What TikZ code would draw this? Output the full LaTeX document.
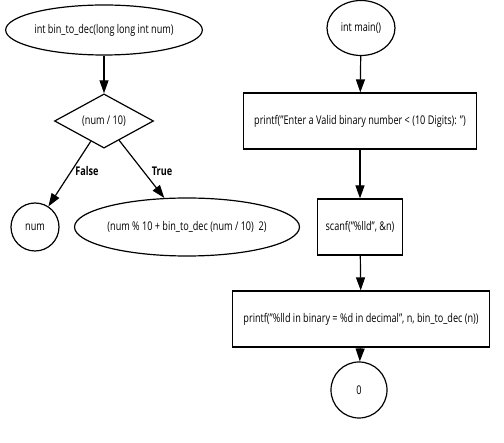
\documentclass[tikz,border=0pt]{standalone}
\usepackage{fontspec}
\setmainfont{Open Sans}[FakeStretch=0.76]
\usetikzlibrary{shapes.geometric,arrows.meta}

\tikzset{
  flow/.style={line width=1.2pt,-{Triangle[length=13pt,width=9pt]}},
  oval/.style={draw,line width=1.2pt,ellipse,inner sep=0pt,font=\fontsize{12}{14}\selectfont},
  blk/.style={draw,line width=1.2pt,rectangle,inner sep=0pt,font=\fontsize{12}{14}\selectfont},
  cond/.style={draw,line width=1.2pt,diamond,inner sep=0pt,font=\fontsize{12}{14}\selectfont},
  lbl/.style={font=\fontsize{12}{14}\selectfont\bfseries}
}

\begin{document}
\begin{tikzpicture}[x=1pt,y=-1pt]
\useasboundingbox (0,0) rectangle (504,443);
% bin_to_dec
\node[oval,minimum width=185pt,minimum height=50pt] (btd) at (104,30) {int bin\_to\_dec(long long int num)};
\node[cond,minimum width=99pt,minimum height=54pt] (chk) at (104,121) {(num / 10)};
\node[oval,minimum width=48pt,minimum height=48pt] (num) at (35,227) {num};
\node[oval,minimum width=212pt,minimum height=58pt] (rec) at (187,227) {(num \% 10 + bin\_to\_dec (num / 10)\ \ 2)};
\draw[flow] (btd) -- (chk);
\draw[flow] (chk) -- (num);
\draw[flow] (chk) -- (rec);
\node[lbl] (f) at (87,171) {False};
\node[lbl] (t) at (162,171) {True};
% main
\node[oval,minimum width=68pt,minimum height=55pt] (main) at (361,28) {int main()};
\node[blk,minimum width=233pt,minimum height=56pt] (p1) at (360,121) {printf("Enter a Valid binary number < (10 Digits): ")};
\node[blk,minimum width=85pt,minimum height=56pt] (sc) at (360,227) {scanf("\%lld", \&n)};
\node[blk,minimum width=257pt,minimum height=56pt] (p2) at (361,319) {printf("\%lld in binary = \%d in decimal", n, bin\_to\_dec (n))};
\node[oval,minimum width=56pt,minimum height=56pt] (zero) at (359,390) {0};
\draw[flow] (main) -- (p1);
\draw[flow] (p1) -- (sc);
\draw[flow] (sc) -- (p2);
\draw[flow] (p2) -- (zero);
\end{tikzpicture}
\end{document}
